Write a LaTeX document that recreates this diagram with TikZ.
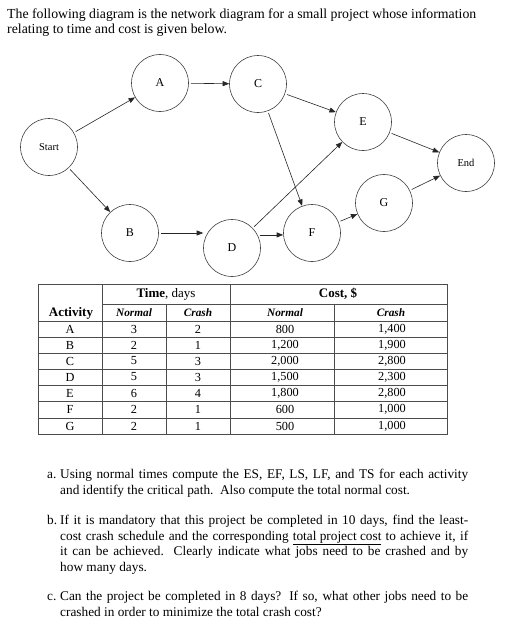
\documentclass[tikz,border=0pt]{standalone}
\usepackage{fontspec}
\setmainfont{Liberation Serif}
\usetikzlibrary{arrows.meta}
\begin{document}
\begin{tikzpicture}[x=1pt,y=-1pt,
  ev/.style={circle, draw=black!75, line width=0.6pt, minimum size=57pt, inner sep=0pt, font=\fontsize{12}{12}\selectfont},
  evs/.style={ev, font=\fontsize{10.5}{10.5}\selectfont},
  arr/.style={-{Triangle[length=6.5pt,width=5pt]}, line width=0.6pt, draw=black!85, shorten <=2pt},
  tline/.style={draw=black!70, line width=0.6pt},
  txt/.style={anchor=base west, inner sep=0pt, font=\fontsize{13.8}{13.8}\selectfont},
  qtxt/.style={anchor=base west, inner sep=0pt, font=\fontsize{13.3}{13.3}\selectfont},
  cell/.style={inner sep=0pt, font=\fontsize{12.3}{12.3}\selectfont},
  hcell/.style={inner sep=0pt, font=\fontsize{11.3}{11.3}\selectfont\bfseries\itshape},
]
\useasboundingbox (0,0) rectangle (514,629);
% title
\node[txt] (t1) at (7,19) {The following diagram is the network diagram for a small project whose information};
\node[txt] (t2) at (7,33) {relating to time and cost is given below.};
% network
\node[evs] (S) at (49,147) {Start};
\node[ev] (A) at (160,83) {A};
\node[ev] (C) at (258,84) {C};
\node[ev] (E) at (363,122) {E};
\node[evs] (End) at (466,163) {End};
\node[ev] (G) at (384,203) {G};
\node[ev] (F) at (312,233) {F};
\node[ev] (B) at (130,233) {B};
\node[ev] (D) at (232,248) {D};
\draw[arr] (S) -- (A);
\draw[arr] (S) -- (B);
\draw[arr] (A) -- (C);
\draw[arr] (B.east) -- (B.east -| D.west);
\draw[arr] (C) -- (E);
\draw[arr] (C) -- (F);
\draw[arr] (D) -- (E);
\draw[arr] (D.27) -- (D.27 -| F.west);
\draw[arr] (F) -- (G);
\draw[arr] (E) -- (End);
\draw[arr] (G) -- (End);
% table
\draw[tline] (38,284) rectangle (447,434);
\draw[tline] (102,304) -- (447,304);
\foreach \yy in {321,337,353,369,385,401,418} \draw[tline] (38,\yy) -- (447,\yy);
\draw[tline] (102,284) -- (102,434);
\draw[tline] (166,304) -- (166,434);
\draw[tline] (230,284) -- (230,434);
\draw[tline] (334,304) -- (334,434);
\node[inner sep=0pt, font=\fontsize{13}{13}\selectfont] (h1) at (166,294) {\textbf{Time}, days};
\node[inner sep=0pt, font=\fontsize{13}{13}\selectfont\bfseries] (h2) at (338,294) {Cost, \$};
\node[inner sep=0pt, font=\fontsize{13}{13}\selectfont\bfseries] (h3) at (71,313) {Activity};
\node[hcell] (h4) at (134,312.5) {Normal};
\node[hcell] (h5) at (198,312.5) {Crash};
\node[hcell] (h6) at (285,312.5) {Normal};
\node[hcell] (h7) at (391,312.5) {Crash};
\foreach \act/\tn/\tc/\cn/\cc [count=\i] in {A/3/2/800/{1,400},B/2/1/{1,200}/{1,900},C/5/3/{2,000}/{2,800},D/5/3/{1,500}/{2,300},E/6/4/{1,800}/{2,800},F/2/1/600/{1,000},G/2/1/500/{1,000}} {
  \pgfmathsetmacro{\yc}{{329,345,361,377,393,409.5,426}[\i-1]}
  \node[cell] (r\i a) at (70,\yc) {\act};
  \node[cell] (r\i b) at (134,\yc) {\tn};
  \node[cell] (r\i c) at (198,\yc) {\tc};
  \node[cell] (r\i d) at (285,\yc) {\cn};
  \node[cell] (r\i e) at (392,\yc) {\cc};
}
% questions
\node[qtxt] (qa) at (47,478) {a.};
\node[qtxt] (a1) at (60,478) {\makebox[408pt][s]{Using normal times compute the ES, EF, LS, LF, and TS for each activity}};
\node[qtxt] (a2) at (60,494) {and identify the critical path.\ \ Also compute the total normal cost.};
\node[qtxt] (qb) at (47,524) {b.};
\node[qtxt] (b1) at (60,524) {\makebox[408pt][s]{If it is mandatory that this project be completed in 10 days, find the least-}};
\node[qtxt] (b2) at (60,540) {\makebox[408pt][s]{cost crash schedule and the corresponding \underline{total project cost} to achieve it, if}};
\node[qtxt] (b3) at (60,555.5) {\makebox[408pt][s]{it can be achieved.\ \ Clearly indicate what jobs need to be crashed and by}};
\node[qtxt] (b4) at (60,571) {how many days.};
\node[qtxt] (qc) at (47,600) {c.};
\node[qtxt] (c1) at (60,600) {\makebox[408pt][s]{Can the project be completed in 8 days? If so, what other jobs need to be}};
\node[qtxt] (c2) at (60,616) {crashed in order to minimize the total crash cost?};
\end{tikzpicture}
\end{document}
